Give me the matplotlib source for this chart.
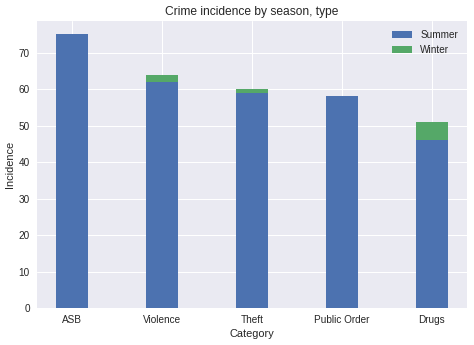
import matplotlib
matplotlib.use('Agg')
import matplotlib.pyplot as plt
import numpy as np

plt.style.use('seaborn-v0_8')
plt.rcParams['font.family'] = ['Liberation Sans', 'DejaVu Sans']

categories = ['ASB', 'Violence', 'Theft', 'Public Order', 'Drugs']
summer = np.array([75, 62, 59, 58, 46])
winter = np.array([0, 2, 1, 0, 5])

fig, ax = plt.subplots(figsize=(474 / 72, 345 / 72), dpi=72)

x = np.arange(len(categories))
width = 0.35
ax.bar(x, summer, width, label='Summer', color='#4c72b0')
ax.bar(x, winter, width, bottom=summer, label='Winter', color='#55a868')

ax.set_ylim(0, (summer + winter).max() * 1.05)
ax.set_xlim(-0.39, len(categories) - 1 + 0.39)
ax.set_xticks(x)
ax.set_xticklabels(categories)
ax.set_xlabel('Category')
ax.set_ylabel('Incidence')
ax.set_title('Crime incidence by season, type')
ax.legend(loc='upper right')

fig.subplots_adjust(left=0.078, right=0.985, top=0.94, bottom=0.107)
fig.savefig('out.png', dpi=72)
